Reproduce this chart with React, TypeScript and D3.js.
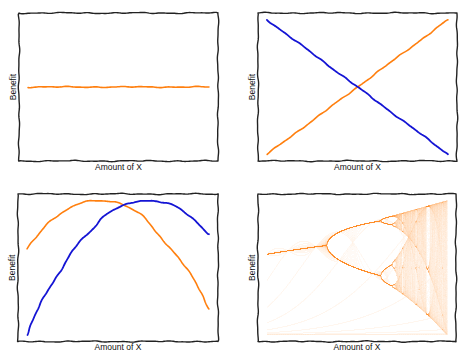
import React, { useMemo } from "react";
import * as d3 from "d3";

const W = 474;
const H = 356;
const ORANGE = "#ff7f0e";
const BLUE = "#1414d4";
const INK = "#222222";

// ---- data ----
// panel 1: a flat benefit
const flatX = [0, 1];
const flatY = [0.5, 0.5];
// panel 2: crossing lines
const crossX = [0, 1];
const risingY = [0, 1];
const fallingY = [1, 0];
// panel 3: two humps
const orangeArcX = [0, 0.073, 0.128, 0.219, 0.31, 0.402, 0.457, 0.53, 0.64, 0.713, 0.786, 0.859, 0.933, 1];
const orangeArcY = [0.64, 0.77, 0.85, 0.93, 0.99, 1.0, 0.997, 0.97, 0.88, 0.76, 0.649, 0.526, 0.378, 0.193];
const blueArcX = [0, 0.055, 0.11, 0.183, 0.274, 0.347, 0.42, 0.494, 0.585, 0.64, 0.731, 0.804, 0.896, 1];
const blueArcY = [0, 0.178, 0.326, 0.474, 0.671, 0.77, 0.881, 0.943, 0.987, 1.0, 0.993, 0.967, 0.881, 0.75];
// panel 4: logistic map bifurcation
const rRange = [2.5, 4.0];
const rCount = 1000;
const iterations = 1000;
const xStart = 1e-5;

const xLabel = "Amount of X";
const yLabel = "Benefit";

type Pt = [number, number];

const panels = [
  { x0: 19, x1: 218, y0: 13, y1: 161 },
  { x0: 258, x1: 457, y0: 13, y1: 161 },
  { x0: 18, x1: 218, y0: 194, y1: 341.5 },
  { x0: 258, x1: 456, y0: 194, y1: 341.5 },
];

function padDomain(a: number, b: number): [number, number] {
  const m = (b - a) * 0.05;
  return [a - m, b + m];
}

function catmull(pts: Pt[], n: number): Pt[] {
  if (pts.length < 3) return pts;
  const out: Pt[] = [];
  for (let i = 0; i < pts.length - 1; i++) {
    const p0 = pts[Math.max(0, i - 1)];
    const p1 = pts[i];
    const p2 = pts[i + 1];
    const p3 = pts[Math.min(pts.length - 1, i + 2)];
    for (let k = 0; k < n; k++) {
      const t = k / n;
      const t2 = t * t, t3 = t2 * t;
      const f = (a: number, b: number, c: number, d: number) =>
        0.5 * (2 * b + (-a + c) * t + (2 * a - 5 * b + 4 * c - d) * t2 + (-a + 3 * b - 3 * c + d) * t3);
      out.push([f(p0[0], p1[0], p2[0], p3[0]), f(p0[1], p1[1], p2[1], p3[1])]);
    }
  }
  out.push(pts[pts.length - 1]);
  return out;
}

// xkcd-like hand-drawn wobble (style only)
function wobble(pts: Pt[], amp: number, phase: number): Pt[] {
  const out: Pt[] = [];
  let s = 0;
  const step = 1.5;
  for (let i = 0; i < pts.length - 1; i++) {
    const [ax, ay] = pts[i];
    const [bx, by] = pts[i + 1];
    const len = Math.hypot(bx - ax, by - ay);
    if (len === 0) continue;
    const nx = -(by - ay) / len, ny = (bx - ax) / len;
    const nSteps = Math.max(1, Math.ceil(len / step));
    for (let k = 0; k < nSteps; k++) {
      const t = k / nSteps;
      const ss = s + t * len;
      const o = amp * (0.5 * Math.sin(ss / 4.1 + phase) + 0.5 * Math.sin(ss / 11.3 + phase * 1.7) + 0.3 * Math.sin(ss / 2.3 + phase * 0.6));
      out.push([ax + (bx - ax) * t + nx * o, ay + (by - ay) * t + ny * o]);
    }
    s += len;
  }
  out.push(pts[pts.length - 1]);
  return out;
}

const lineGen = d3.line<Pt>().x((d) => d[0]).y((d) => d[1]);

function framePath(p: { x0: number; x1: number; y0: number; y1: number }, ph: number) {
  const sides: Pt[][] = [
    [[p.x0, p.y0], [p.x1, p.y0]],
    [[p.x1, p.y0], [p.x1, p.y1]],
    [[p.x1, p.y1], [p.x0, p.y1]],
    [[p.x0, p.y1], [p.x0, p.y0]],
  ];
  return sides.map((s, i) => lineGen(wobble(s, 0.6, ph + i * 1.9)) as string).join(" ");
}

function Panel({ p, idx, children }: { p: any; idx: number; children?: React.ReactNode }) {
  const cx = (p.x0 + p.x1) / 2;
  const cy = (p.y0 + p.y1) / 2;
  const fp = framePath(p, idx * 2.3 + 0.4);
  return (
    <g>
      {children}
      <path d={fp} fill="none" stroke="white" strokeWidth={3} strokeLinecap="round" />
      <path d={fp} fill="none" stroke={INK} strokeWidth={1.4} strokeLinecap="round" />
      <text x={cx} y={p.y1 + 8.5} textAnchor="middle" fontSize={8.5} fontFamily="Liberation Sans, Arial, sans-serif" fill="#111">
        {xLabel}
      </text>
      <text
        transform={`translate(${p.x0 - 3},${cy}) rotate(-90)`}
        textAnchor="middle"
        fontSize={8.5}
        fontFamily="Liberation Sans, Arial, sans-serif"
        fill="#111"
      >
        {yLabel}
      </text>
    </g>
  );
}

function seriesPath(xs: number[], ys: number[], sx: any, sy: any, smooth: boolean, ph: number) {
  let pts: Pt[] = xs.map((x, i) => [sx(x), sy(ys[i])]);
  if (smooth) pts = catmull(pts, 8);
  return lineGen(wobble(pts, 0.55, ph)) as string;
}

export default function App() {
  const p1 = panels[0], p2 = panels[1], p3 = panels[2], p4 = panels[3];
  const s1x = d3.scaleLinear().domain(padDomain(0, 1)).range([p1.x0, p1.x1]);
  const s1y = d3.scaleLinear().domain([0, 1]).range([p1.y1, p1.y0]);
  const s2x = d3.scaleLinear().domain(padDomain(0, 1)).range([p2.x0, p2.x1]);
  const s2y = d3.scaleLinear().domain(padDomain(0, 1)).range([p2.y1, p2.y0]);
  const s3x = d3.scaleLinear().domain(padDomain(0, 1)).range([p3.x0, p3.x1]);
  const s3y = d3.scaleLinear().domain(padDomain(0, 1)).range([p3.y1, p3.y0]);
  const s4x = d3.scaleLinear().domain(padDomain(rRange[0], rRange[1])).range([p4.x0, p4.x1]);
  const s4y = d3.scaleLinear().domain(padDomain(0, 1)).range([p4.y1, p4.y0]);

  const bifPaths = useMemo(() => {
    const counts = new Map<number, number>();
    for (let i = 0; i < rCount; i++) {
      const r = rRange[0] + ((rRange[1] - rRange[0]) * i) / (rCount - 1);
      const px = Math.floor(s4x(r));
      let x = xStart;
      for (let k = 0; k < iterations; k++) {
        x = r * x * (1 - x);
        const py = Math.floor(s4y(x));
        const key = py * 1000 + px;
        counts.set(key, (counts.get(key) || 0) + 1);
      }
    }
    const LEVELS = 30;
    const buckets: string[][] = Array.from({ length: LEVELS }, () => []);
    counts.forEach((c, key) => {
      const py = Math.floor(key / 1000);
      const px = key - py * 1000;
      const op = Math.min(0.9, 0.026 * Math.sqrt(c));
      const lv = Math.max(0, Math.min(LEVELS - 1, Math.round(op * (LEVELS - 1))));
      buckets[lv].push(`M${px},${py}h1v1h-1z`);
    });
    return buckets
      .map((b, lv) => ({ d: b.join(""), op: lv / (LEVELS - 1) }))
      .filter((b) => b.d.length > 0 && b.op > 0);
  }, []);

  return (
    <svg width={W} height={H} style={{ position: "absolute", left: 0, top: 0, background: "white" }}>
      <rect width={W} height={H} fill="white" />
      <Panel p={p1} idx={0}>
        <path d={seriesPath(flatX, flatY, s1x, s1y, false, 1.1)} fill="none" stroke={ORANGE} strokeWidth={1.6} strokeLinecap="round" />
      </Panel>
      <Panel p={p2} idx={1}>
        <path d={seriesPath(crossX, risingY, s2x, s2y, false, 2.2)} fill="none" stroke={ORANGE} strokeWidth={1.6} strokeLinecap="round" />
        <path d={seriesPath(crossX, fallingY, s2x, s2y, false, 0.3)} fill="none" stroke={BLUE} strokeWidth={1.8} strokeLinecap="round" />
      </Panel>
      <Panel p={p3} idx={2}>
        <path d={seriesPath(orangeArcX, orangeArcY, s3x, s3y, true, 3.1)} fill="none" stroke={ORANGE} strokeWidth={1.6} strokeLinecap="round" />
        <path d={seriesPath(blueArcX, blueArcY, s3x, s3y, true, 1.7)} fill="none" stroke={BLUE} strokeWidth={1.8} strokeLinecap="round" />
      </Panel>
      <Panel p={p4} idx={3}>
        <g shapeRendering="crispEdges">
          {bifPaths.map((b, i) => (
            <path key={i} d={b.d} fill={ORANGE} fillOpacity={b.op} />
          ))}
        </g>
      </Panel>
    </svg>
  );
}
